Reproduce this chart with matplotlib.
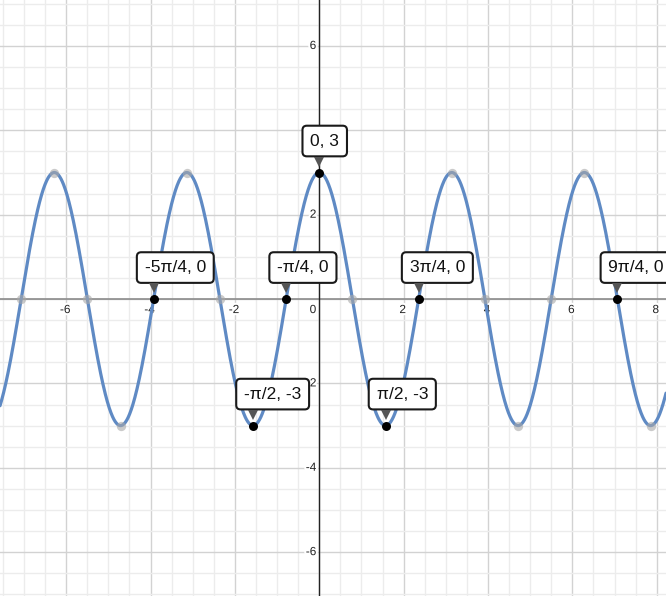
import numpy as np
import matplotlib
matplotlib.use("Agg")
import matplotlib.pyplot as plt
import matplotlib.patheffects as pe
from matplotlib.transforms import ScaledTranslation

# ---- data ----
amplitude = 3.0
angular_freq = 2.0
x_range = (-7.57, 8.22)
y_range = (-7.04, 7.09)

label_x = [-5*np.pi/4, -np.pi/4, 0.0, -np.pi/2, np.pi/2, 3*np.pi/4, 9*np.pi/4]
label_y = [0, 0, 3, -3, -3, 0, 0]
label_text = ["-5π/4, 0", "-π/4, 0", "0, 3", "-π/2, -3", "π/2, -3", "3π/4, 0", "9π/4, 0"]

grey_x = [-9*np.pi/4, -7*np.pi/4, -3*np.pi/4, np.pi/4, 5*np.pi/4, 7*np.pi/4,
          -2*np.pi, -3*np.pi/2, -np.pi, np.pi, 3*np.pi/2, 2*np.pi, 5*np.pi/2]
grey_y = [0, 0, 0, 0, 0, 0, 3, -3, 3, 3, -3, 3, -3]

xticks = [-6, -4, -2, 2, 4, 6, 8]
yticks = [-6, -4, -2, 2, 4, 6]

# ---- figure ----
dpi = 100
fig = plt.figure(figsize=(6.66, 5.96), dpi=dpi)
ax = fig.add_axes([0, 0, 1, 1])
ax.set_xlim(*x_range)
ax.set_ylim(*y_range)
for s in ax.spines.values():
    s.set_visible(False)
ax.set_xticks([]); ax.set_yticks([])

# grid
for v in np.arange(-7.5, 8.5, 0.5):
    major = abs(v % 2) < 1e-9
    ax.axvline(v, color="#d2d2d2" if major else "#ececec", lw=1.0, zorder=0)
for v in np.arange(-7.0, 7.5, 0.5):
    major = abs(v % 2) < 1e-9
    ax.axhline(v, color="#d2d2d2" if major else "#ececec", lw=1.0, zorder=0)

ax.axhline(0, color="#8c8c8c", lw=1.2, zorder=1)
ax.axvline(0, color="#222222", lw=1.0, zorder=1)

halo = [pe.withStroke(linewidth=3, foreground="white")]
def off(dx, dy):
    return ax.transData + ScaledTranslation(dx / dpi, dy / dpi, fig.dpi_scale_trans)

for t in xticks:
    ax.text(t, 0, str(t), transform=off(-1, -11), ha="center", va="center",
            fontsize=8.5, color="#222222", path_effects=halo, zorder=2,
            family="Liberation Sans")
for t in yticks:
    ax.text(0, t, str(t), transform=off(-3, 0), ha="right", va="center",
            fontsize=8.5, color="#222222", path_effects=halo, zorder=2,
            family="Liberation Sans")
ax.text(0, 0, "0", transform=off(-3, -11), ha="right", va="center",
        fontsize=8.5, color="#222222", path_effects=halo, zorder=2,
        family="Liberation Sans")

# curve
xs = np.linspace(x_range[0], x_range[1], 2000)
ax.plot(xs, amplitude * np.cos(angular_freq * xs), color="#5f8ac4", lw=2.3, zorder=3,
        solid_capstyle="round")

# grey points
ax.scatter(grey_x, grey_y, s=45, color="#a8a8a8", alpha=0.6, zorder=4, linewidths=0)

# labeled points
ax.scatter(label_x, label_y, s=42, color="black", zorder=6, linewidths=0)
for x, y, t in zip(label_x, label_y, label_text):
    ax.plot([x], [y], marker="v", ms=7, color="#555555", transform=off(0, 11), zorder=7,
            markeredgewidth=0)
    ax.text(x, y, t, transform=off(-9, 24), ha="left", va="bottom", fontsize=12.5,
            color="#111111", family="Liberation Sans", zorder=6,
            bbox=dict(boxstyle="round,pad=0.45,rounding_size=0.25", fc="white",
                      ec="#1a1a1a", lw=1.5))

fig.savefig("out.png", dpi=dpi)
